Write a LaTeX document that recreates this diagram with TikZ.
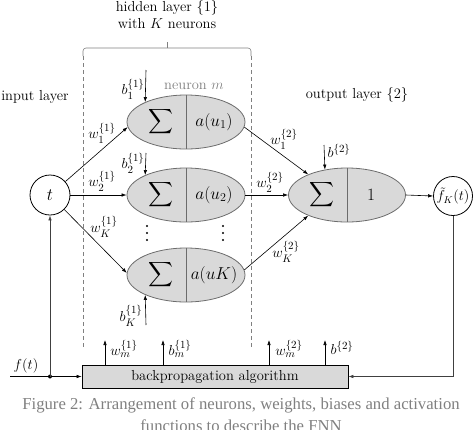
\documentclass[tikz,border=0pt]{standalone}
\usepackage{exscale}
\usepackage{fontspec}
\newfontfamily\capfont{Liberation Serif}
\usetikzlibrary{shapes.geometric,arrows.meta}
\begin{document}
\begin{tikzpicture}[x=1pt,y=-1pt,
  neuronell/.style={ellipse, draw=gray!85!black, fill=gray!30, line width=0.8pt, minimum width=118pt, minimum height=54pt, inner sep=0pt},
  unitcirc/.style={circle, draw, line width=0.8pt, fill=white, minimum size=40pt, inner sep=0pt},
  conn/.style={-{Latex[length=5pt,width=3.5pt]}, line width=0.6pt},
  lbl/.style={font=\fontsize{14.5}{17}\selectfont, inner sep=0pt},
  mlbl/.style={font=\fontsize{15.5}{17}\selectfont, inner sep=0pt},
  albl/.style={font=\fontsize{17}{19}\selectfont, inner sep=0pt},
  sig/.style={font=\fontsize{18}{18}\selectfont, inner sep=0pt},
  divline/.style={gray!85!black, line width=0.8pt},
  brk/.style={gray, line width=0.6pt},
  fb/.style={conn, black!75}]
\useasboundingbox (0,0) rectangle (474,429);

% titles
\node[lbl] (ht1) at (167,8) {hidden layer \{1\}};
\node[lbl] (ht2) at (167,24) {with $K$ neurons};
\node[lbl] (il) at (35,97) {input layer};
\node[lbl] (ol) at (357,95) {output layer \{2\}};
\node[lbl, text=gray] (nm) at (194,86) {neuron $m$};

% bracket and dashed lines
\draw[brk, rounded corners=3pt] (83,56) -- (83,48) -- (251,48) -- (251,56);
\draw[brk] (167,48) -- (167,42);
\draw[brk, dash pattern=on 4pt off 3pt] (83,56) -- (83,348);
\draw[brk, dash pattern=on 4pt off 3pt] (251,56) -- (251,348);

% neurons
\node[neuronell] (n1) at (186,122) {};
\node[neuronell] (n2) at (186,195) {};
\node[neuronell] (nK) at (186,275) {};
\node[neuronell, minimum width=117pt] (out) at (347,195) {};
\draw[divline] (n1.north) -- (n1.south);
\draw[divline] (n2.north) -- (n2.south);
\draw[divline] (nK.north) -- (nK.south);
\draw[divline] (out.north) -- (out.south);
\node[sig] (s1) at (161,122) {$\displaystyle\sum$};
\node[sig] (s2) at (161,195) {$\displaystyle\sum$};
\node[sig] (sK) at (161,275) {$\displaystyle\sum$};
\node[sig] (so) at (322,195) {$\displaystyle\sum$};
\node[albl] (a1) at (214,122) {$a(u_1)$};
\node[albl] (a2) at (214,195) {$a(u_2)$};
\node[albl] (aK) at (214,275) {$a(uK)$};
\node[albl] (one) at (371,195) {$1$};
\foreach \yy in {226,233,240} {
  \fill (147,\yy) circle (1.1pt);
  \fill (223,\yy) circle (1.1pt);
}

% input / output units
\node[unitcirc] (t) at (50,195) {\fontsize{16}{18}\selectfont$t$};
\node[unitcirc, minimum size=39pt] (fk) at (453,196) {\fontsize{14.5}{16}\selectfont$\tilde{f}_K(t)$};

% hidden connections
\draw[conn] (t) -- (n1.185);
\draw[conn] (t) -- (n2.west);
\draw[conn] (t) -- (nK.178);
\node[mlbl] (w11) at (102,133) {$w_1^{\{1\}}$};
\node[mlbl] (w21) at (102,181) {$w_2^{\{1\}}$};
\node[mlbl] (wK1) at (104,227) {$w_K^{\{1\}}$};

% biases hidden
\coordinate (b1s) at (146,70);
\coordinate (b2s) at (146,153);
\coordinate (bKs) at (146,325);
\draw[conn] (b1s) -- (n1.154);
\draw[conn] (b2s) -- (n2.154);
\draw[conn] (bKs) -- (nK.206);
\node[mlbl] (b11) at (133,89) {$b_1^{\{1\}}$};
\node[mlbl] (b21) at (133,163) {$b_2^{\{1\}}$};
\node[mlbl] (bK1) at (131,316) {$b_K^{\{1\}}$};

% output connections
\draw[conn] (n1.-5) -- (out.152);
\draw[conn] (n2.east) -- (out.west);
\draw[conn] (nK.5) -- (out.-152);
\node[mlbl] (w12) at (284,139) {$w_1^{\{2\}}$};
\node[mlbl] (w22) at (270,182) {$w_2^{\{2\}}$};
\node[mlbl] (wK2) at (286,252) {$w_K^{\{2\}}$};
\coordinate (bos) at (324,145);
\draw[conn] (bos) -- (out.131);
\node[mlbl] (bo) at (339,151) {$b^{\{2\}}$};
\draw[conn] (out.east) -- (fk.west);

% backpropagation
\node[draw, fill=gray!30, line width=0.8pt, minimum width=266pt, minimum height=23pt, inner sep=0pt, font=\fontsize{14.5}{17}\selectfont] (bp) at (215,376.5) {backpropagation algorithm};
\coordinate (fin) at (10,376.5);
\coordinate (dot) at (t.south |- bp.west);
\draw[conn] (fin) -- (bp.west);
\fill (dot) circle (2pt);
\draw[fb] (dot) -- (t.south);
\draw[fb] (fk.south) |- (bp.east);
\node[mlbl] (ft) at (26,366) {$f(t)$};

\coordinate (u1) at (105,340);
\coordinate (u2) at (163,340);
\coordinate (u3) at (269,340);
\coordinate (u4) at (325,340);
\draw[conn] (u1 |- bp.north) -- (u1);
\draw[conn] (u2 |- bp.north) -- (u2);
\draw[conn] (u3 |- bp.north) -- (u3);
\draw[conn] (u4 |- bp.north) -- (u4);
\node[mlbl] (wm1) at (124,349) {$w_m^{\{1\}}$};
\node[mlbl] (bm1) at (180,349) {$b_m^{\{1\}}$};
\node[mlbl] (wm2) at (289,349) {$w_m^{\{2\}}$};
\node[mlbl] (bm2) at (342,348) {$b^{\{2\}}$};

% caption
\node[font=\capfont\fontsize{16.7}{18}\selectfont, text=gray, inner sep=0pt] (cap1) at (241,405) {Figure 2: Arrangement of neurons, weights, biases and activation};
\node[font=\capfont\fontsize{16.7}{18}\selectfont, text=gray, inner sep=0pt] (cap2) at (241,426) {functions to describe the FNN};
\end{tikzpicture}
\end{document}
